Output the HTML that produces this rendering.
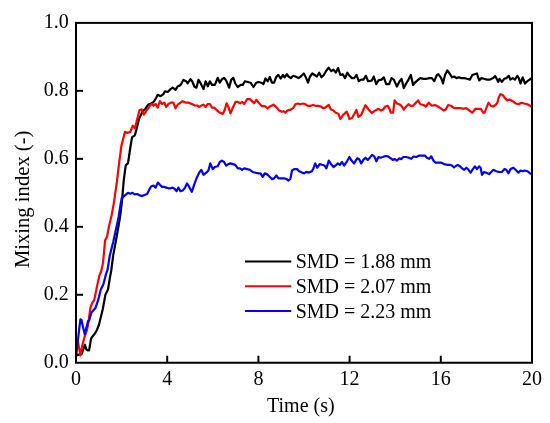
<!DOCTYPE html>
<html><head><meta charset="utf-8">
<style>
html,body{margin:0;padding:0;background:#fff;}
body{width:550px;height:423px;overflow:hidden;}
svg{display:block;}
text{font-family:"Liberation Serif","Times New Roman",serif;fill:#000;}
</style></head><body>
<svg width="550" height="423" viewBox="0 0 550 423">
<rect width="550" height="423" fill="#fff"/>
<g fill="none" stroke-width="2.2" stroke-linejoin="round" stroke-linecap="round">
<polyline stroke="#000" points="76.0,356.0 77.8,354.6 79.5,354.8 81.6,354.1 84.9,344.7 86.3,349.4 87.7,350.4 89.1,350.4 91.0,339.0 92.0,337.1 94.3,334.3 96.7,330.5 98.9,325.0 102.8,309.0 105.4,294.7 108.0,289.5 109.9,277.8 111.2,271.0 113.2,255.4 115.2,244.6 117.9,229.8 120.2,216.0 122.1,199.6 123.6,181.8 125.1,169.9 125.8,165.4 128.0,163.2 128.8,158.0 130.4,147.0 132.1,137.2 134.8,135.4 136.5,129.2 139.2,118.6 142.7,111.3 145.6,108.5 148.4,104.5 150.5,103.8 153.0,102.6 154.8,100.2 157.8,94.8 160.6,96.2 163.5,94.1 164.9,91.3 167.7,92.0 170.6,89.1 172.7,87.7 175.5,89.8 177.7,86.3 179.8,85.6 181.2,84.1 183.4,79.9 186.2,81.3 187.6,83.4 190.5,79.2 192.3,81.5 194.3,86.5 196.4,87.7 198.5,79.9 200.7,83.4 203.5,89.1 205.6,81.3 207.8,86.3 209.9,81.3 212.0,84.9 214.9,84.9 217.7,77.8 219.8,82.7 222.0,79.2 224.1,77.8 226.2,80.6 229.1,87.7 231.2,79.9 233.3,77.8 235.3,83.5 237.7,87.0 240.7,84.9 242.8,84.9 244.9,81.3 247.8,82.0 250.6,82.7 253.5,87.0 256.3,82.7 258.4,82.0 261.3,82.7 263.4,84.1 265.5,78.5 267.7,81.3 269.8,77.0 271.9,82.7 274.1,82.7 276.2,77.0 278.3,74.9 280.5,78.5 283.1,75.0 284.6,77.3 286.9,74.2 288.5,76.5 290.8,78.1 293.1,75.8 295.4,76.5 298.5,78.1 300.8,76.5 303.8,73.5 306.2,78.1 308.0,82.7 310.0,76.5 312.3,73.5 314.6,75.0 316.9,76.5 319.2,72.7 321.5,77.3 323.8,75.0 326.2,70.8 328.6,67.7 331.2,71.2 333.5,69.6 335.8,72.7 338.1,68.1 340.4,75.0 342.7,74.2 345.0,78.1 347.3,72.7 349.6,75.8 351.9,78.1 354.2,78.1 356.5,75.0 358.8,81.2 361.2,79.6 363.5,79.6 365.8,75.8 368.1,81.2 370.4,81.0 371.8,80.4 373.8,76.5 376.2,84.2 378.5,80.4 381.5,79.6 383.8,77.3 386.2,84.2 389.2,84.2 391.5,78.1 393.8,79.6 396.9,86.5 399.2,81.9 401.5,78.8 403.8,88.1 406.2,83.5 408.5,79.6 410.8,75.0 413.1,85.0 415.2,82.3 417.5,80.4 420.2,78.1 423.5,78.8 426.5,78.8 429.6,78.1 431.9,78.1 434.2,81.2 436.8,75.2 438.3,74.2 441.2,78.1 443.0,83.5 445.0,75.0 447.3,70.4 449.6,73.5 451.9,77.3 454.2,76.5 456.5,78.1 458.8,77.3 461.2,78.1 464.6,78.1 466.9,78.8 470.0,79.6 472.3,75.0 474.6,74.2 476.9,73.5 479.2,80.4 481.5,78.1 483.8,78.8 486.9,79.6 490.0,79.6 493.1,78.1 495.2,76.0 496.8,79.0 498.1,81.9 499.6,78.8 501.9,81.9 504.2,78.8 506.5,78.1 508.8,75.8 510.4,79.6 512.7,78.1 515.0,79.6 517.3,75.8 518.8,78.1 520.4,83.5 522.7,77.3 525.0,83.5 527.3,81.2 529.6,79.6 531.5,78.1"/>
<polyline stroke="#f00" points="76.0,350.0 77.6,339.5 80.4,355.5 82.5,344.5 84.8,336.0 87.0,330.0 88.5,322.0 90.4,307.7 92.4,302.5 94.3,299.9 96.9,286.9 99.5,275.2 101.3,271.0 103.1,262.1 105.1,240.6 107.1,236.5 109.1,225.8 111.5,216.0 113.9,202.6 116.9,181.8 119.0,163.9 121.5,145.2 125.0,131.9 127.7,132.8 130.4,131.9 132.7,125.7 134.8,128.4 137.4,118.6 139.5,110.2 141.7,109.4 143.8,114.6 146.3,110.8 148.4,107.9 150.3,105.0 152.0,104.0 153.5,105.5 155.7,104.0 157.8,107.6 159.9,101.2 162.0,104.0 164.2,102.6 166.3,106.9 168.4,104.0 171.3,102.6 173.4,102.6 175.5,108.3 177.7,104.7 180.5,102.6 182.6,101.2 185.5,102.6 188.3,102.6 191.9,104.0 195.0,105.5 197.1,105.5 199.2,106.9 201.4,105.5 203.5,104.7 205.6,106.9 207.8,104.0 209.9,104.0 212.0,107.6 214.1,107.6 217.0,110.4 219.8,112.6 222.7,114.0 224.8,109.7 226.6,103.3 228.4,106.9 230.5,113.3 232.6,108.3 235.5,101.9 237.8,101.9 240.0,103.3 242.1,101.9 244.2,104.0 247.1,99.1 249.9,99.1 252.8,101.9 254.2,103.3 256.3,99.8 259.1,103.3 262.0,106.2 264.8,106.2 267.7,108.3 270.5,106.2 273.4,104.7 276.2,106.9 279.0,110.4 281.9,111.8 283.8,111.2 285.4,112.7 287.7,110.4 290.8,109.6 293.1,108.1 295.4,104.2 297.7,103.5 300.0,104.2 303.1,103.5 305.4,104.2 307.7,105.8 310.8,105.8 313.1,105.0 315.4,105.8 318.5,105.8 320.8,106.5 323.1,108.1 325.2,107.6 328.7,104.8 330.9,109.5 333.5,110.5 335.6,112.7 338.3,113.7 340.4,119.0 343.1,114.8 346.8,111.6 349.5,119.0 352.1,118.0 356.4,110.0 358.5,116.9 361.2,114.8 365.4,105.2 368.6,109.5 371.8,113.0 375.4,110.4 378.5,108.8 380.8,110.4 383.1,109.6 385.4,106.5 387.7,105.8 389.2,108.1 390.8,112.7 393.1,112.7 394.6,100.4 396.9,103.5 399.2,104.2 401.5,105.8 403.8,109.6 406.2,106.5 408.5,104.2 410.8,105.8 413.1,105.8 415.2,103.5 418.1,100.4 420.4,104.2 423.5,105.0 425.8,106.5 428.8,102.7 431.9,105.8 435.0,105.0 438.1,106.5 440.4,108.1 443.5,110.4 445.8,109.6 448.1,105.0 451.2,105.8 454.2,108.1 457.3,108.1 460.4,108.1 463.1,108.8 466.2,108.1 469.2,110.4 472.3,112.7 475.4,108.8 478.5,108.8 480.8,108.8 483.1,112.7 484.6,112.7 488.5,102.7 490.8,105.8 493.1,106.5 495.5,105.0 497.3,102.7 498.8,97.3 500.4,94.2 502.7,95.0 505.0,98.1 507.3,100.4 509.6,99.6 512.7,101.2 515.8,103.5 518.8,104.2 521.2,102.7 524.2,103.5 527.3,104.2 531.5,106.5"/>
<polyline stroke="#00f" points="76.0,357.0 77.8,341.0 80.4,319.3 81.5,320.0 83.0,327.0 84.8,334.5 86.5,327.0 88.0,321.2 89.2,320.3 90.3,316.5 91.5,312.5 95.6,307.7 98.2,299.9 100.8,289.5 103.4,284.3 106.0,273.9 107.5,270.0 109.8,255.4 113.2,241.9 116.5,227.1 118.6,217.0 120.6,204.1 121.7,198.1 125.1,195.1 128.0,192.9 130.3,193.7 132.5,192.9 134.7,194.4 137.0,194.0 139.2,195.1 142.1,196.1 145.0,194.7 147.1,194.0 149.2,189.7 151.4,186.2 153.5,185.5 155.6,187.6 157.8,182.6 159.9,184.8 162.0,186.9 164.1,186.9 166.3,187.6 168.4,188.3 170.5,188.3 172.7,187.6 174.8,189.0 176.6,191.2 178.4,187.6 180.5,191.2 182.6,190.5 184.7,188.3 187.0,183.4 189.2,186.9 191.8,191.8 194.2,184.7 197.1,176.9 199.2,172.7 201.3,169.8 203.5,174.8 206.3,172.7 208.4,170.5 210.3,163.4 212.7,169.1 214.8,167.0 217.7,166.3 219.8,162.0 221.9,160.6 224.1,162.0 226.2,165.6 228.3,164.1 230.5,163.4 232.7,164.1 235.3,164.9 237.8,168.4 239.9,168.4 242.1,169.8 244.2,168.4 247.0,169.1 249.9,169.8 252.7,172.0 255.6,172.7 258.4,173.4 260.5,173.4 262.7,176.9 264.8,173.4 266.9,174.1 269.1,176.2 271.9,179.1 274.0,178.4 276.3,175.5 278.5,178.4 281.4,178.3 284.2,178.3 286.4,179.0 288.5,180.5 290.3,179.0 292.0,170.5 294.2,169.1 297.0,169.1 299.1,171.2 302.0,172.6 304.1,173.4 306.3,171.9 309.1,172.6 311.9,171.2 313.4,168.4 315.2,163.4 317.3,167.7 319.7,164.1 322.0,164.8 324.5,165.5 326.4,168.4 328.8,160.6 331.1,164.1 333.5,167.0 335.6,165.5 337.8,163.4 339.9,164.8 342.0,162.0 344.1,165.5 347.0,161.3 349.4,157.0 351.5,160.6 354.1,163.4 357.2,158.4 359.1,159.1 361.2,163.4 363.3,159.9 365.5,157.7 367.7,159.9 370.0,157.4 372.1,154.9 374.2,156.3 376.4,161.3 378.5,157.0 380.6,157.7 382.8,157.0 385.6,156.0 387.7,156.3 389.9,157.7 392.7,159.9 394.8,159.1 397.0,160.6 399.1,158.4 401.2,159.1 403.4,157.0 406.2,157.0 409.0,157.7 411.2,158.8 413.5,156.5 416.4,157.0 419.2,155.6 422.1,155.6 424.9,155.6 427.0,157.7 429.2,158.9 431.3,156.3 433.4,160.6 435.6,162.7 438.4,162.7 441.3,162.7 444.1,164.1 446.9,164.8 449.8,164.8 451.9,165.5 454.0,167.4 455.8,166.0 457.8,164.9 460.0,166.3 462.1,168.4 464.2,169.8 466.4,167.7 468.5,169.8 470.6,172.7 472.8,169.1 474.9,166.3 477.0,169.1 479.1,166.3 480.6,167.7 482.0,174.8 484.1,172.0 486.3,172.7 489.1,174.1 491.2,172.0 493.4,169.8 496.2,171.2 499.0,172.0 501.9,172.0 504.5,169.1 506.3,169.8 508.5,173.3 510.6,169.1 513.4,167.7 515.6,169.8 518.4,172.6 520.5,170.5 522.7,171.2 524.8,170.5 527.6,171.2 529.8,173.3 531.5,174.0"/>
</g>
<g stroke="#000" stroke-width="2" fill="none">
<rect x="76.0" y="22.9" width="456.0" height="339.85"/>
<line x1="167.20" y1="362.75" x2="167.20" y2="355.75"/><line x1="258.40" y1="362.75" x2="258.40" y2="355.75"/><line x1="349.60" y1="362.75" x2="349.60" y2="355.75"/><line x1="440.80" y1="362.75" x2="440.80" y2="355.75"/><line x1="76.00" y1="294.78" x2="83.00" y2="294.78"/><line x1="76.00" y1="226.81" x2="83.00" y2="226.81"/><line x1="76.00" y1="158.84" x2="83.00" y2="158.84"/><line x1="76.00" y1="90.87" x2="83.00" y2="90.87"/>
</g>
<g font-size="20">
<text x="76.00" y="385.2" text-anchor="middle">0</text><text x="167.20" y="385.2" text-anchor="middle">4</text><text x="258.40" y="385.2" text-anchor="middle">8</text><text x="349.60" y="385.2" text-anchor="middle">12</text><text x="440.80" y="385.2" text-anchor="middle">16</text><text x="532.00" y="385.2" text-anchor="middle">20</text>
<text x="68.8" y="368.25" text-anchor="end">0.0</text><text x="68.8" y="300.28" text-anchor="end">0.2</text><text x="68.8" y="232.31" text-anchor="end">0.4</text><text x="68.8" y="164.34" text-anchor="end">0.6</text><text x="68.8" y="96.37" text-anchor="end">0.8</text><text x="68.8" y="28.40" text-anchor="end">1.0</text>
</g>
<g stroke-width="2" stroke-linecap="butt">
<line x1="245" y1="261.5" x2="291.3" y2="261.5" stroke="#000"/>
<line x1="245" y1="286.2" x2="291.3" y2="286.2" stroke="#f00"/>
<line x1="245" y1="310.9" x2="291.3" y2="310.9" stroke="#00f"/>
</g>
<g font-size="20">
<text x="295.7" y="267.9">SMD = 1.88 mm</text>
<text x="295.7" y="293.0">SMD = 2.07 mm</text>
<text x="295.7" y="317.8">SMD = 2.23 mm</text>
</g>
<text font-size="20" x="267.0" y="411.8">Time (s)</text>
<text font-size="20.65" transform="translate(28.6,268.1) rotate(-90)">Mixing index (-)</text>
</svg>
</body></html>
